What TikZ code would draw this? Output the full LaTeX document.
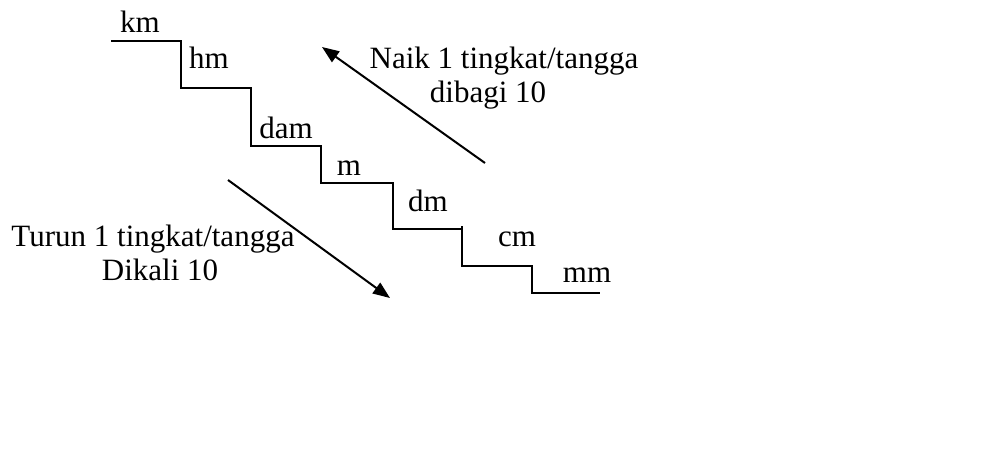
\documentclass[tikz,border=0pt]{standalone}
\usepackage{fontspec}
\setmainfont{Liberation Serif}
\usetikzlibrary{arrows.meta}

\begin{document}
\begin{tikzpicture}[x=1pt,y=-1pt]
\tikzstyle{unit}=[anchor=base, inner sep=0pt, font=\fontsize{31}{34}\selectfont]
\tikzstyle{stair}=[line width=2pt]
\tikzstyle{hint}=[line width=2pt, -{Triangle[length=17pt,width=13pt]}]

\useasboundingbox (0,0) rectangle (986,465);

\draw[stair] (111,41) -| (181,88) -| (251,146) -| (321,183) -| (393,229) -| (462,266) -| (532,293) -- (600,293);
\draw[stair] (462,229) -- (462,226);

\foreach \name/\x/\y in {km/140/33, hm/209/69, dam/286/139, m/349/176, dm/428/212, cm/517/247, mm/587/283} {
\node[unit] (\name) at (\x,\y) {\name};
}

\node[unit] (naik1) at (504,69) {Naik 1 tingkat/tangga};
\node[unit] (naik2) at (488,103) {dibagi 10};
\node[unit] (turun1) at (153,247) {Turun 1 tingkat/tangga};
\node[unit] (turun2) at (160,281) {Dikali 10};

\coordinate (up from) at (485,163);
\coordinate (up to) at (322,47);
\coordinate (down from) at (228,180);
\coordinate (down to) at (390,298);
\draw[hint] (up from) -- (up to);
\draw[hint] (down from) -- (down to);

\end{tikzpicture}
\end{document}
